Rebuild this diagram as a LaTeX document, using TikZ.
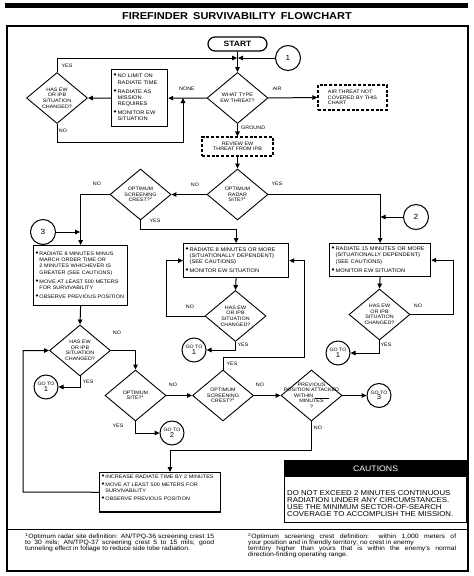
\documentclass[tikz,border=0pt]{standalone}
\usepackage{fontspec}
\setmainfont{Liberation Sans}[FakeStretch=1.1]
\usetikzlibrary{calc,shapes.geometric,arrows.meta}

% bullet item with hanging lines
\newcommand{\bul}[1]{\mbox{\raisebox{0pt}{\scalebox{1.5}{\textbullet}}\hspace{1pt}\begin{tabular}[t]{@{}l@{}}#1\end{tabular}}}
\hfuzz=20pt

\begin{document}
\begin{tikzpicture}[x=1pt,y=-1pt,
  flow/.style={line width=1pt,-{Triangle[length=5pt,width=4.5pt]}},
  decision/.style={draw,diamond,line width=0.9pt,minimum width=61pt,minimum height=51pt,
    inner sep=-20pt,align=center,font=\fontsize{4.9}{5.6}\selectfont},
  box/.style={draw,rectangle,line width=1.2pt,anchor=north west,align=left,
    inner xsep=2pt,inner ysep=2pt,font=\fontsize{5.2}{6.3}\selectfont},
  dashbox/.style={draw,rectangle,line width=1.1pt,dash pattern=on 3pt off 1.8pt,
    inner sep=0pt,font=\fontsize{4.9}{5.6}\selectfont},
  conn/.style={draw,circle,line width=1pt,minimum size=25pt,inner sep=0pt,
    font=\fontsize{7.5}{8}\selectfont},
  goto/.style={draw,circle,line width=1pt,minimum size=24pt,inner sep=0pt,align=center,
    font=\fontsize{4.8}{5.6}\selectfont},
  lbl/.style={inner sep=0pt,font=\fontsize{4.9}{5.5}\selectfont}]
\useasboundingbox (0,0) rectangle (474,576);

% title and frame
\fill[black] (5,3) rectangle (468,7.5);
\node[font=\fontsize{10}{12}\selectfont\bfseries] (title) at (237,16)
  {FIREFINDER\hspace{2pt} SURVIVABILITY\hspace{2pt} FLOWCHART};
\draw[line width=1.2pt] (7,26) rectangle (468,571);
\draw[line width=1pt] (7,529) -- (468,529);

% top part
\node[draw,line width=1.2pt,rounded corners=7pt,minimum width=59pt,minimum height=14pt,
  inner sep=0pt,font=\fontsize{7.7}{9}\selectfont\bfseries] (start) at (237.5,44) {START};
\coordinate (j1) at (237.5,58);
\node[conn] (c1) at (288,58) {1};
\node[decision] (dtype) at (237.5,98) {WHAT TYPE\\EW THREAT?};
\node[dashbox,minimum width=69pt,minimum height=25pt,align=left] (air) at (352.5,97.5)
  {AIR THREAT NOT\\COVERED BY THIS\\CHART\hspace{22pt}};
\node[box,text width=52pt,minimum height=57pt] (none) at (111,69)
  {\bul{NO LIMIT ON\\RADIATE TIME}\\[1.5pt]\bul{RADIATE AS\\MISSION\\REQUIRES}\\[1.5pt]\bul{MONITOR EW\\SITUATION}};
\coordinate (jn) at (183,98);
\coordinate (r0) at (183,142);
\node[decision] (dchg0) at (57,98) {HAS EW\\OR IPB\\SITUATION\\CHANGED?};
\node[dashbox,minimum width=71pt,minimum height=19pt,align=center] (review) at (237.5,146.5)
  {REVIEW EW\\THREAT FROM IPB};

\draw[flow] (start) -- (dtype);
\draw[flow,shorten >=0.5pt] (c1) -- (j1);
\draw[flow,shorten >=0.5pt] (dchg0.north) |- (j1);
\draw[flow] (dtype.east) -- (air.west);
\draw[flow] (dtype.west) -- (none.east);
\draw[flow] (none.west) -- (dchg0.east);
\draw[flow] (dchg0.south) |- (r0) -- (jn);
\draw[flow] (dtype.south) -- (review.north);

\node[lbl] (lair) at (277,89) {AIR};
\node[lbl] (lnone) at (187,89) {NONE};
\node[lbl,anchor=west] (lground) at (241,128) {GROUND};
\node[lbl] (lyes0) at (67,66) {YES};
\node[lbl] (lno0) at (63,131) {NO};

% site selection
\node[decision] (dsite) at (237.5,194.5) {OPTIMUM\\RADAR\\SITE?\textsuperscript{1}};
\node[decision] (dcrest) at (140.5,194.5) {OPTIMUM\\SCREENING\\CREST?\textsuperscript{2}};
\node[conn] (c3) at (43,232) {3};
\node[conn] (c2) at (416,217) {2};

\node[box,text width=90pt,minimum height=60pt,font=\fontsize{5}{6.4}\selectfont] (b8m) at (33,245)
  {\bul{RADIATE 8 MINUTES MINUS\\MARCH ORDER TIME OR\\2 MINUTES WHICHEVER IS\\GREATER (SEE CAUTIONS)}\\[1.5pt]\bul{MOVE AT LEAST 500 METERS\\FOR SURVIVABILITY}\\[1.5pt]\bul{OBSERVE PREVIOUS POSITION}};
\node[box,text width=101pt,minimum height=34pt] (b8) at (183,243)
  {\bul{RADIATE 8 MINUTES OR MORE\\(SITUATIONALLY DEPENDENT)\\(SEE CAUTIONS)}\\[1.5pt]\bul{MONITOR EW SITUATION}};
\node[box,text width=97pt,minimum height=33pt] (b15) at (329,243)
  {\bul{RADIATE 15 MINUTES OR MORE\\(SITUATIONALLY DEPENDENT)\\(SEE CAUTIONS)}\\[1.5pt]\bul{MONITOR EW SITUATION}};

\draw[flow] (review.south) -- (dsite.north);
\draw[flow] (dsite.west) -- (dcrest.east);
\draw[flow] (dsite.east) -| (b15.north);
\draw[flow] (dcrest.west) -| (b8m.north);
\draw[flow] (dcrest.south) -- ([yshift=-9pt]dcrest.south) -| (b8.north);
\draw[flow,shorten >=0.5pt] (c3) -- (c3 -| b8m.north);
\draw[flow,shorten >=0.5pt] (c2) -- (c2 -| b15.north);

\node[lbl] (lno1) at (195,185) {NO};
\node[lbl] (lyes1) at (277,184) {YES};
\node[lbl] (lno2) at (97,184) {NO};
\node[lbl] (lyes2) at (155,221) {YES};

% middle and right loops
\node[decision] (dchg8) at (235.5,316) {HAS EW\\OR IPB\\SITUATION\\CHANGED?};
\node[decision] (dchg15) at (379.5,314.5) {HAS EW\\OR IPB\\SITUATION\\CHANGED?};
\node[goto] (go1b) at (194,350) {GO TO\\{\fontsize{7}{7}\selectfont 1}};
\node[goto] (go1c) at (338,353) {GO TO\\{\fontsize{7}{7}\selectfont 1}};
\coordinate (r15) at (453,314.5);

\draw[flow] (b8.south) -- (dchg8.north);
\draw[flow] (dchg8.west) -| ([xshift=-17pt]b8.west) -- (b8.west);
\draw[flow] (dchg8.south) |- (go1b.east);
\draw[flow] (b15.south) -- (dchg15.north);
\draw[flow] (dchg15.east) -- (r15) |- (b15.east);
\draw[flow] (dchg15.south) |- (go1c.east);

\node[lbl] (lno3) at (190,307) {NO};
\node[lbl] (lyes3) at (243,345) {YES};
\node[lbl] (lno4) at (418,306) {NO};
\node[lbl] (lyes4) at (386,345) {YES};

% lower part
\node[decision] (dchg8m) at (80,350.5) {HAS EW\\OR IPB\\SITUATION\\CHANGED?};
\node[goto] (go1a) at (46,387) {GO TO\\{\fontsize{7}{7}\selectfont 1}};
\node[decision] (dsite2) at (135.5,395.5) {OPTIMUM\\SITE?\textsuperscript{1}};
\node[goto] (go2) at (172,433) {GO TO\\{\fontsize{7}{7}\selectfont 2}};
\node[decision] (dcrest2) at (223,395.5) {OPTIMUM\\SCREENING\\CREST?\textsuperscript{2}};
\node[decision] (dprev) at (311.5,395.5)
  {PREVIOUS\\POSITION ATTACKED\\WITHIN \underline{\hspace{14pt}}\\MINUTES\\?};
\node[goto] (go3) at (379,395.5) {GO TO\\{\fontsize{7}{7}\selectfont 3}};
\node[box,text width=117pt,text depth=31pt,font=\fontsize{5}{6.2}\selectfont] (binc) at (99,472)
  {\bul{INCREASE RADIATE TIME BY 2 MINUTES}\\[1pt]\bul{MOVE AT LEAST 500 METERS FOR\\SURVIVABILITY}\\[1pt]\bul{OBSERVE PREVIOUS POSITION}};
\coordinate (r8) at (304,357);
\coordinate (r9) at (170,450);
\coordinate (l9) at (23,492);

\draw[flow] (b8m.south) -- (dchg8m.north);
\draw[flow] (dchg8m.east) -| (dsite2.north);
\draw[flow] (dchg8m.south) |- (go1a.east);
\draw[flow] (dsite2.east) -- (dcrest2.west);
\draw[flow] (dsite2.south) |- (go2.west);
\draw[flow] (dcrest2.east) -- (dprev.west);
\draw[flow] (dcrest2.north) |- (r8) |- (b8.east);
\draw[flow] (dprev.east) -- (go3.west);
\draw[flow] (dprev.south) |- (r9) -- (r9 |- binc.north);
\draw[flow] (binc.west) -- (l9) |- (dchg8m.west);

\node[lbl] (lno5) at (117,333) {NO};
\node[lbl] (lyes5) at (88,382) {YES};
\node[lbl] (lno6) at (173,385) {NO};
\node[lbl] (lyes6) at (118,426) {YES};
\node[lbl] (lyes7) at (232,364) {YES};
\node[lbl] (lno7) at (260,385) {NO};
\node[lbl] (lno8) at (318,428) {NO};

% cautions
\node[draw,line width=1.2pt,minimum width=182pt,minimum height=62pt,inner sep=0pt,
  anchor=north west] (caut) at (284,460) {};
\node[fill=black,text=white,minimum width=182pt,minimum height=17pt,inner sep=0pt,
  anchor=north,font=\fontsize{7.9}{9}\selectfont] (cauthead) at (caut.north) {CAUTIONS};
\node[anchor=north west,align=left,inner sep=0pt,font=\fontsize{7.1}{7}\selectfont] (cauttxt)
  at (287,490.5) {DO NOT EXCEED 2 MINUTES CONTINUOUS\\RADIATION UNDER ANY CIRCUMSTANCES.\\USE THE MINIMUM SECTOR-OF-SEARCH\\COVERAGE TO ACCOMPLISH THE MISSION.};

% footnotes
\node[anchor=north west,text width=189pt,align=justify,inner sep=0pt,
  font=\fontsize{6.2}{6}\selectfont] (fn1) at (25,533)
  {\textsuperscript{1}Optimum radar site definition: AN/TPQ-36 screening crest 15\linebreak to 30 mils; AN/TPQ-37 screening crest 5 to 15 mils; good\linebreak tunneling effect in foliage to reduce side lobe radiation.};
\node[anchor=north west,text width=208pt,align=justify,inner sep=0pt,
  font=\fontsize{6.2}{6}\selectfont] (fn2) at (248,533)
  {\textsuperscript{2}Optimum screening crest definition: within 1,000 meters of\linebreak your position and in friendly territory; no crest in enemy\newline territory higher than yours that is within the enemy's normal\linebreak direction-finding operating range.};
\end{tikzpicture}
\end{document}
